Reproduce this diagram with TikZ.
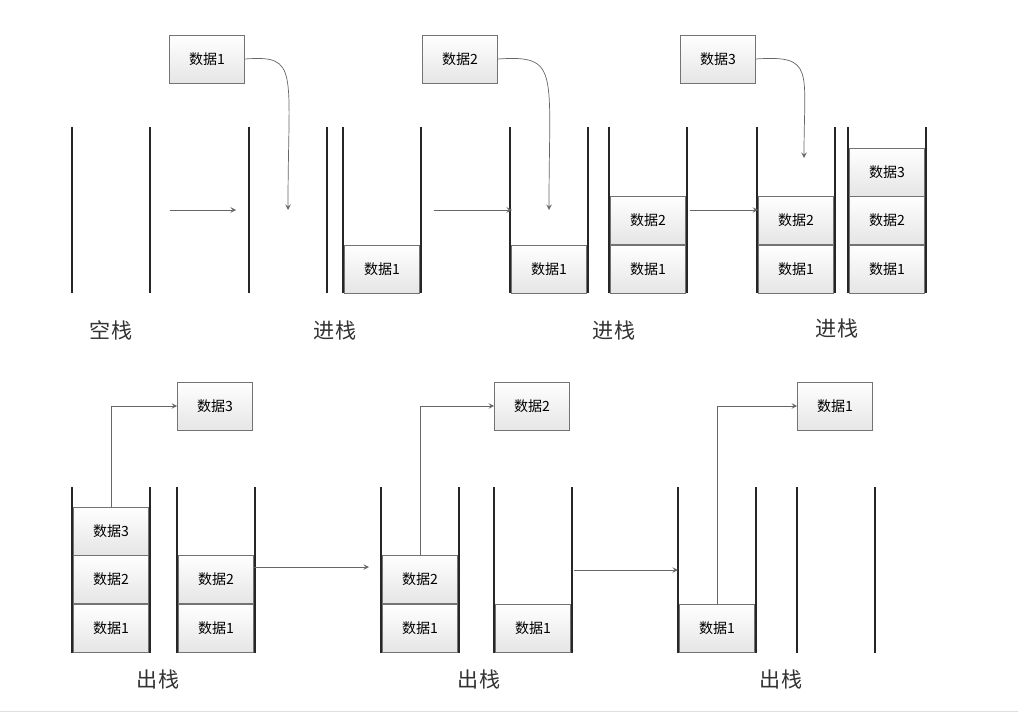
\documentclass[tikz,border=0pt]{standalone}
\usepackage{fontspec}
\newfontfamily\cjk{Noto Sans CJK SC}
\usetikzlibrary{positioning, arrows}
\colorlet{drawColor}{black!55}
\colorlet{wallColor}{black!85}
\tikzstyle{cell}=[rectangle, draw=drawColor, top color=white, bottom color=black!10,
minimum width=1.5cm, minimum height=0.96cm, inner sep=0pt, font=\cjk\fontsize{8}{9}\selectfont]
\tikzstyle{wall}=[line width=1.6pt, draw=wallColor]
\tikzstyle{caption}=[font=\cjk\fontsize{12}{14}\selectfont, text=black!80]
\tikzstyle{arrow}=[->, >=stealth, draw=black!60, thin]

\begin{document}
\begin{tikzpicture}[x=0.02cm, y=-0.02cm]
    \useasboundingbox (0,0) rectangle (1018,713);
    \fill[white] (0,0) rectangle (1018,713);
    \draw[black!12] (0,711) -- (1018,711);
    % walls of the stacks
    \foreach \x in {72,150,249,327,343,421,510,588,609,687,757,835,848,926}
      \draw[wall] (\x,127) -- (\x,293);
    \foreach \x in {72,150,177,255,381,459,494,572,678,756,797,875}
      \draw[wall] (\x,487) -- (\x,653);
    % top row
    \node (inA) [cell] at (207,59) {数据1};
    \node (inB) [cell] at (460,59) {数据2};
    \node (inC) [cell] at (718,59) {数据3};
    \node (sB1) [cell] at (382,269) {数据1};
    \node (sC1) [cell] at (549,269) {数据1};
    \node (sD1) [cell] at (648,269) {数据1};
    \node (sD2) [cell] at (648,220) {数据2};
    \node (sE1) [cell] at (796,269) {数据1};
    \node (sE2) [cell] at (796,220) {数据2};
    \node (sF1) [cell] at (887,269) {数据1};
    \node (sF2) [cell] at (887,220) {数据2};
    \node (sF3) [cell] at (887,172) {数据3};
    \coordinate (dropA) at (288,210);
    \coordinate (dropB) at (549,210);
    \coordinate (dropC) at (804,158);
    \draw[arrow] (inA.east) .. controls (300,55) and (288,70) .. (dropA);
    \draw[arrow] (inB.east) .. controls (560,55) and (549,70) .. (dropB);
    \draw[arrow] (inC.east) .. controls (815,55) and (804,70) .. (dropC);
    \coordinate (gA) at (170,210); \coordinate (hA) at (236,210);
    \coordinate (gB) at (434,210); \coordinate (hB) at (512,210);
    \coordinate (gC) at (690,210);
    \draw[arrow] (gA) -- (hA);
    \draw[arrow] (gB) -- (hB);
    \draw[arrow] (gC) -- (sE2.west |- gC);
    \node (capA) [caption] at (111,330) {空栈};
    \node (capB) [caption] at (335,330) {进栈};
    \node (capC) [caption] at (614,330) {进栈};
    \node (capD) [caption] at (837,328) {进栈};
    % bottom row
    \node (tA1) [cell] at (111,628) {数据1};
    \node (tA2) [cell] at (111,579) {数据2};
    \node (tA3) [cell] at (111,531) {数据3};
    \node (tB1) [cell] at (216,628) {数据1};
    \node (tB2) [cell] at (216,579) {数据2};
    \node (tC1) [cell] at (420,628) {数据1};
    \node (tC2) [cell] at (420,579) {数据2};
    \node (tD1) [cell] at (533,628) {数据1};
    \node (tE1) [cell] at (717,628) {数据1};
    \node (outA) [cell] at (215,406) {数据3};
    \node (outB) [cell] at (532,406) {数据2};
    \node (outC) [cell] at (835,406) {数据1};
    \draw[arrow] (tA3.north) |- (outA.west);
    \draw[arrow] (tC2.north) |- (outB.west);
    \draw[arrow] (tE1.north) |- (outC.west);
    \coordinate (hC) at (369,567);
    \coordinate (gD) at (574,570); \coordinate (hD) at (678,570);
    \draw[arrow] (tB2.east |- hC) -- (hC);
    \draw[arrow] (gD) -- (hD);
    \node (capE) [caption] at (158,679) {出栈};
    \node (capF) [caption] at (479,679) {出栈};
    \node (capG) [caption] at (781,679) {出栈};
\end{tikzpicture}
\end{document}
